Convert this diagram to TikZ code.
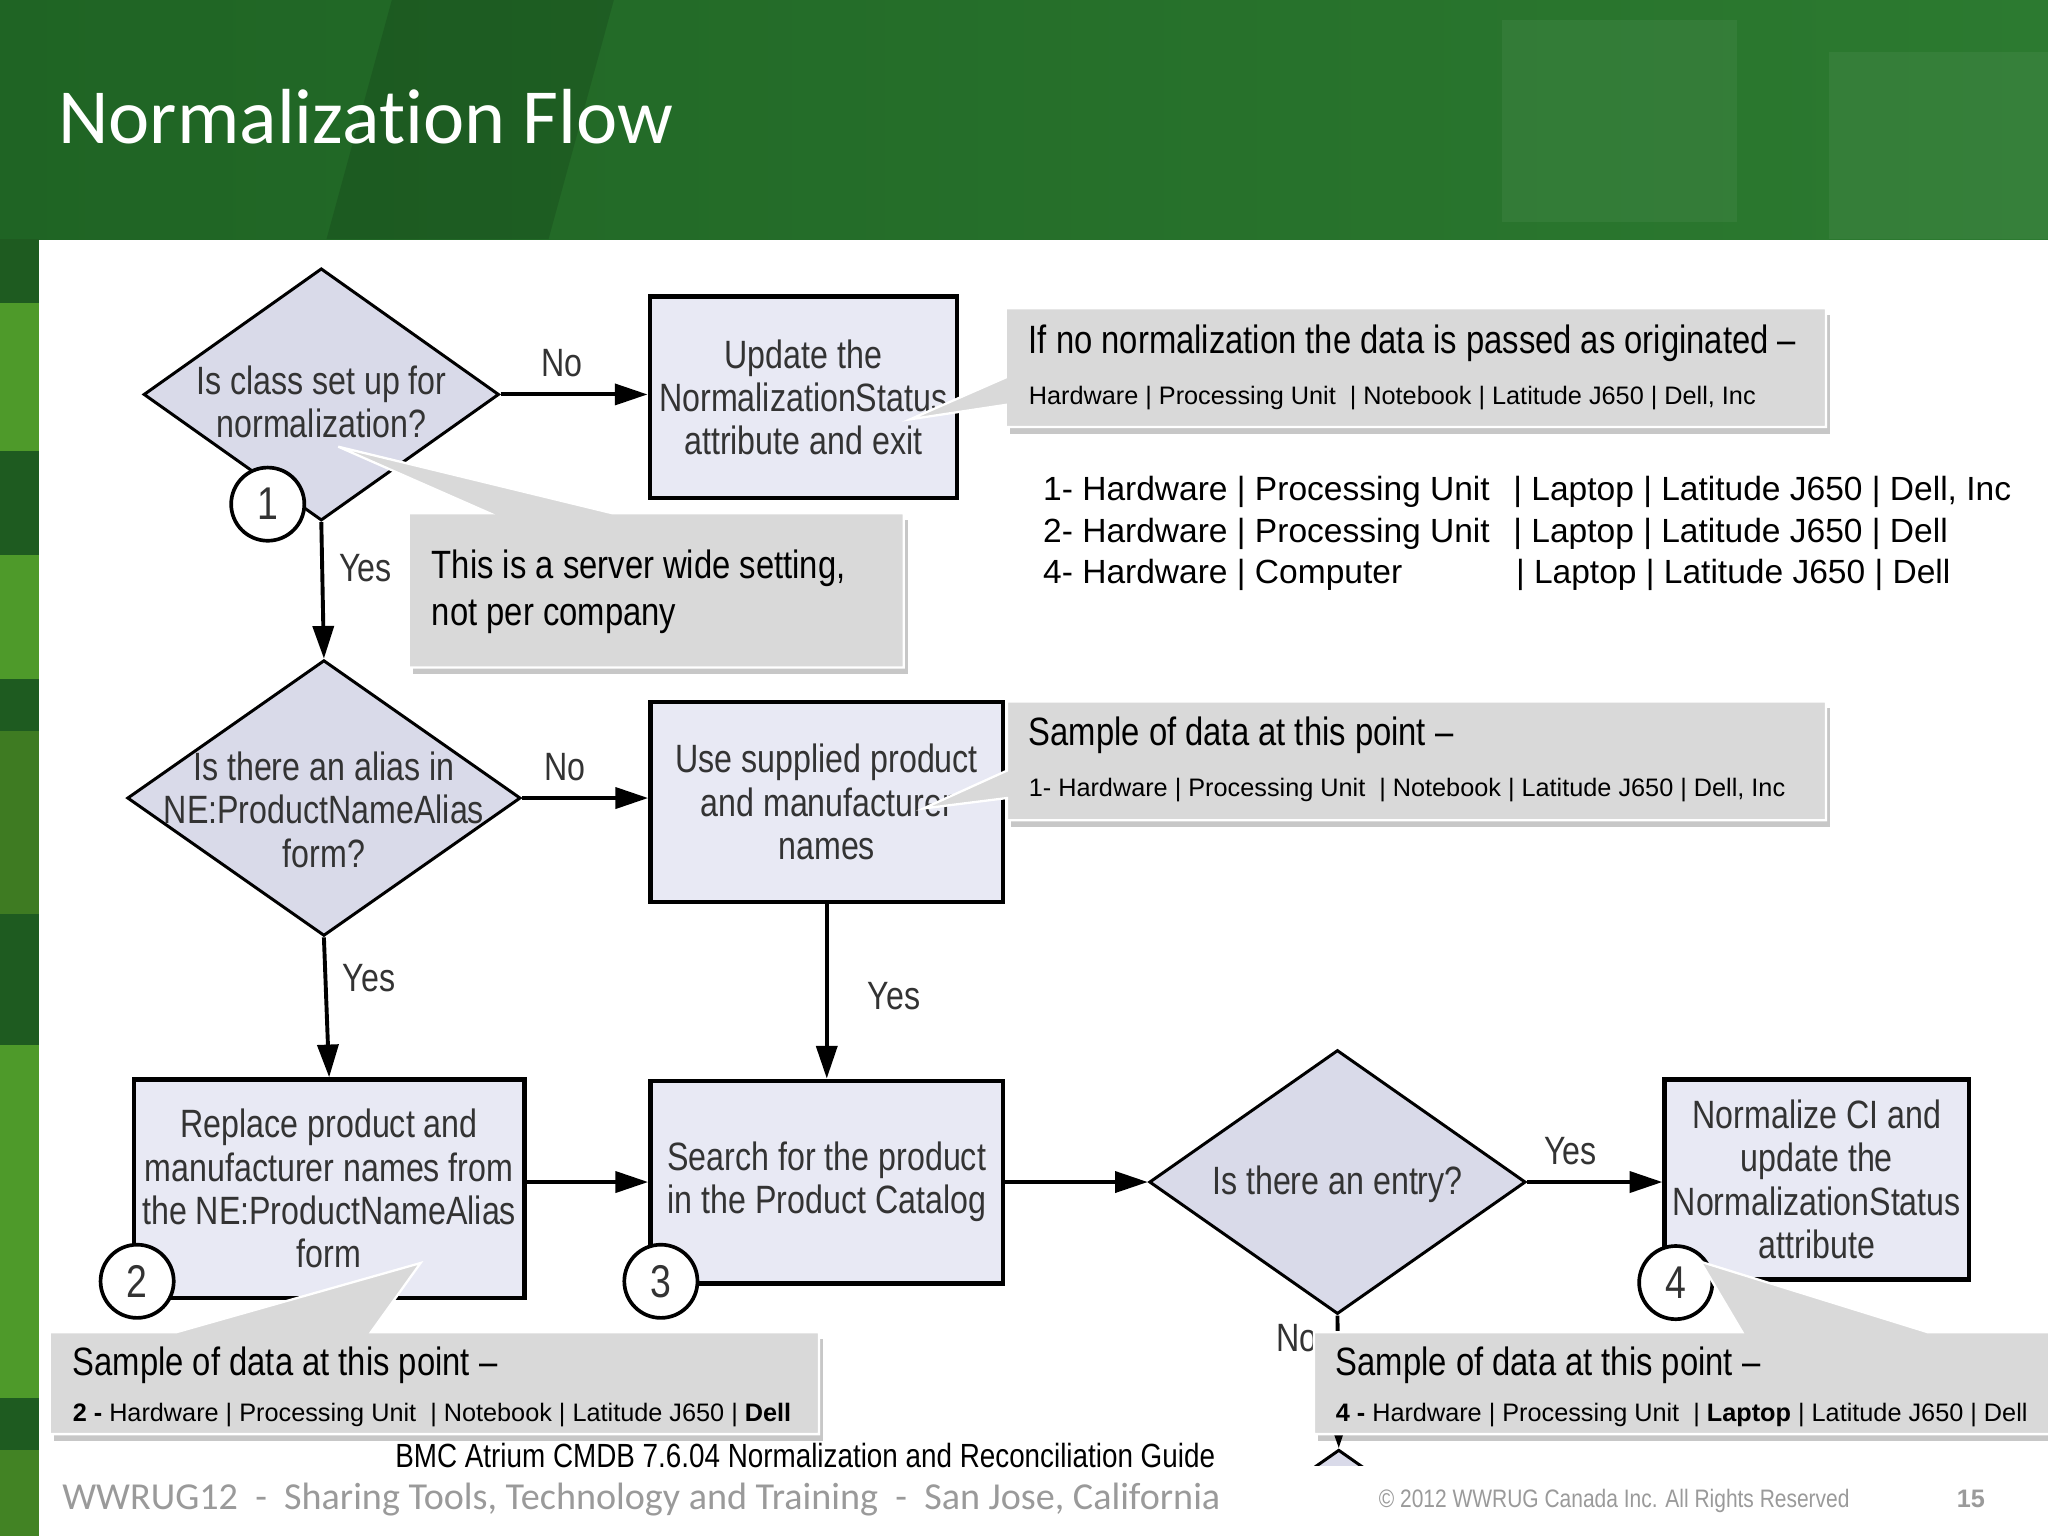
\documentclass[tikz,border=0pt]{standalone}
\usepackage{fontspec}
\setmainfont{Liberation Sans}
\newfontfamily\flowfont[FakeStretch=0.815]{Liberation Sans}
\newfontfamily\narrowfont[FakeStretch=0.83]{Liberation Sans}
\newfontfamily\slidefont[Ligatures=NoCommon]{Carlito}
\usetikzlibrary{shapes.geometric,arrows.meta}
\definecolor{boxfill}{HTML}{E8E9F4}
\definecolor{dmdfill}{HTML}{D9DAE9}
\definecolor{flowtext}{HTML}{333333}
\definecolor{callgray}{HTML}{D9D9D9}
\definecolor{footgray}{HTML}{9A9A9A}
\definecolor{hdrA}{HTML}{1F6424}
\definecolor{hdrB}{HTML}{124617}
\definecolor{hdrC}{HTML}{2C7A30}
\definecolor{stripdark}{HTML}{1E5B20}
\definecolor{stripbright}{HTML}{4E9A2A}

\begin{document}
\begin{tikzpicture}[x=0.01cm ,y=-0.01cm ,>={Triangle[length=2.5mm,width=1.6mm]},
process/.style ={rectangle ,draw=black ,line width=0.95pt ,fill=boxfill ,
text=flowtext ,align=center ,inner sep=0pt ,
font=\flowfont\fontsize{8.6}{9.4}\selectfont},
decision/.style ={diamond ,draw=black ,line width=0.65pt ,fill=dmdfill ,inner sep=0pt},
qtext/.style ={text=flowtext ,align=center ,inner sep=0pt ,
font=\flowfont\fontsize{8.6}{9.4}\selectfont},
answer/.style ={text=flowtext ,font=\flowfont\fontsize{8.6}{9.4}\selectfont},
flow/.style ={->, line width=0.85pt},
marker/.style ={circle ,draw=black ,line width=0.8pt ,fill=white ,
minimum size=0.56cm ,inner sep=0pt ,text=flowtext ,
font=\flowfont\fontsize{10}{10}\selectfont},
callout/.style ={fill=callgray ,draw=white ,line width=0.5pt},
callshadow/.style ={fill=black ,opacity=0.22},
calltitle/.style ={anchor=west ,inner sep=0pt ,
font=\narrowfont\fontsize{8.6}{10.2}\selectfont},
callline/.style ={anchor=west ,inner sep=0pt ,font=\fontsize{5.5}{6.6}\selectfont},
sample/.style ={anchor=west ,inner sep=0pt ,font=\fontsize{7.3}{8.8}\selectfont}]
\useasboundingbox (0,0) rectangle (1568,1176);

% slide background
\fill[white] (0,0) rectangle (1568,1176);
\shade[left color=hdrA ,middle color=hdrB ,right color=hdrC] (0,0) rectangle (1568,183);
\fill[black ,opacity=0.12] (300,0) -- (470,0) -- (420,183) -- (250,183) -- cycle;
\fill[white ,opacity=0.05] (1150,15) rectangle (1330,170);
\fill[white ,opacity=0.05] (1400,40) rectangle (1568,183);
\fill[stripdark] (0,183) rectangle (30,1176);
\fill[stripbright] (0,232) rectangle (30,345);
\fill[stripbright] (0,425) rectangle (30,520);
\fill[stripbright!80!black] (0,560) rectangle (30,700);
\fill[stripbright] (0,800) rectangle (30,1070);
\fill[stripbright!85!black] (0,1110) rectangle (30,1176);
\node[anchor=west ,inner sep=0pt ,text=white ,
font=\slidefont\fontsize{17}{20}\selectfont] (title) at (44,89) {Normalization Flow};

% flow chart
\node[decision ,minimum width=2.72cm ,minimum height=1.93cm] (d1) at (246,302) {};
\node[qtext] (q1) at (246,308) {Is class set up for\\normalization?};
\node[process ,minimum width=2.35cm ,minimum height=1.54cm] (upd) at (615,304)
{Update the\\NormalizationStatus\\attribute and exit};
\node[decision ,minimum width=3.01cm ,minimum height=2.11cm] (d2) at (248,611) {};
\node[qtext] (q2) at (248,620) {Is there an alias in\\NE:ProductNameAlias\\form?};
\node[process ,minimum width=2.70cm ,minimum height=1.53cm] (use) at (633,614)
{Use supplied product\\and manufacturer\\names};
\node[process ,minimum width=2.99cm ,minimum height=1.67cm] (repl) at (252,910)
{Replace product and\\manufacturer names from\\the NE:ProductNameAlias\\form};
\node[process ,minimum width=2.70cm ,minimum height=1.55cm] (srch) at (633,905)
{Search for the product\\in the Product Catalog};
\node[decision ,minimum width=2.88cm ,minimum height=2.02cm] (d3) at (1024,905) {};
\node[qtext] (q3) at (1024,907) {Is there an entry?};
\node[process ,minimum width=2.33cm ,minimum height=1.53cm] (norm) at (1391,903)
{Normalize CI and\\update the\\NormalizationStatus\\attribute};
\begin{scope}
\clip (870,1000) rectangle (1180,1122);
\node[decision ,minimum width=2.88cm ,minimum height=2.02cm] (d4) at (1025,1211) {};
\end{scope}

\draw[flow] (d1.east) -- node[answer ,above ,pos=0.42] {No} (d1.east -| upd.west);
\draw[flow] (d1.south) -- node[answer ,right ,pos=0.34] {Yes} (d2.north);
\draw[flow] (d2.east) -- node[answer ,above ,pos=0.34] {No} (d2.east -| use.west);
\draw[flow] (d2.south) -- node[answer ,right ,pos=0.29] {Yes} (repl.north);
\draw[flow] (use.south) -- node[answer ,right ,pos=0.53 ,xshift=0.18cm] {Yes} (srch.north);
\draw[flow] (repl.east |- srch.west) -- (srch.west);
\draw[flow] (srch.east) -- (d3.west);
\draw[flow] (d3.east) -- node[answer ,above ,pos=0.32] {Yes} (d3.east -| norm.west);
\draw[flow] (d3.south) -- node[answer ,left ,pos=0.17 ,xshift=-0.02cm] {No} (d4.north);

\node[marker] (m1) at (205,386) {1};
\node[marker] (m2) at (105,981) {2};
\node[marker] (m3) at (506,981) {3};
\node[marker] (m4) at (1283,982) {4};

% callouts
\fill[callshadow ,shift={(3,5)}] (770,236) -- (1398,236) -- (1398,327) -- (770,327) -- cycle;
\draw[callout] (770,236) -- (1398,236) -- (1398,327) -- (770,327) -- (770,310)
 -- (697,321) -- (770,289) -- cycle;
\fill[callshadow ,shift={(3,5)}] (313,393) -- (692,393) -- (692,511) -- (313,511) -- cycle;
\draw[callout] (313,393) -- (375,393) -- (259,342) -- (469,393) -- (692,393)
 -- (692,511) -- (313,511) -- cycle;
\fill[callshadow ,shift={(3,5)}] (771,537) -- (1398,537) -- (1398,628) -- (771,628) -- cycle;
\draw[callout] (771,537) -- (1398,537) -- (1398,628) -- (771,628) -- (771,611)
 -- (707,619) -- (771,590) -- cycle;
\fill[callshadow ,shift={(3,5)}] (38,1020) -- (627,1020) -- (627,1098) -- (38,1098) -- cycle;
\draw[callout] (38,1020) -- (135,1020) -- (322,967) -- (284,1020) -- (627,1020)
 -- (627,1098) -- (38,1098) -- cycle;
\fill[callshadow ,shift={(3,5)}] (1006,1020) -- (1570,1020) -- (1570,1098) -- (1006,1098) -- cycle;
\draw[callout] (1006,1020) -- (1334,1020) -- (1302,966) -- (1476,1020) -- (1570,1020)
 -- (1570,1098) -- (1006,1098) -- cycle;

\node[calltitle] (tTop) at (787,263) {If no normalization the data is passed as originated –};
\node[callline] (lTop) at (787,305) {Hardware | Processing Unit\ \ | Notebook | Latitude J650 | Dell, Inc};
\node[calltitle ,align=left] (tSrv) at (330,453) {This is a server wide setting,\\not per company};
\node[calltitle] (tMid) at (787,563) {Sample of data at this point –};
\node[callline] (lMid) at (787,605) {1- Hardware | Processing Unit\ \ | Notebook | Latitude J650 | Dell, Inc};
\node[calltitle] (tLeft) at (55,1045) {Sample of data at this point –};
\node[callline] (lLeft) at (55,1083) {\textbf{2 -} Hardware | Processing Unit\ \ | Notebook | Latitude J650 | \textbf{Dell}};
\node[calltitle] (tRight) at (1022,1045) {Sample of data at this point –};
\node[callline] (lRight) at (1022,1083) {\textbf{4 -} Hardware | Processing Unit\ \ | \textbf{Laptop} | Latitude J650 | Dell};

% sample rows
\node[sample] (s1a) at (798,377) {1- Hardware | Processing Unit};
\node[sample] (s1b) at (1158,377) {| Laptop | Latitude J650 | Dell, Inc};
\node[sample] (s2a) at (798,409) {2- Hardware | Processing Unit};
\node[sample] (s2b) at (1158,409) {| Laptop | Latitude J650 | Dell};
\node[sample] (s4a) at (798,440) {4- Hardware | Computer};
\node[sample] (s4b) at (1160,440) {| Laptop | Latitude J650 | Dell};

% footer
\node[anchor=west ,inner sep=0pt ,font=\narrowfont\fontsize{7.3}{8}\selectfont] (guide) at (302,1114)
{BMC Atrium CMDB 7.6.04 Normalization and Reconciliation Guide};
\node[anchor=west ,inner sep=0pt ,text=footgray ,font=\slidefont\fontsize{8.3}{10}\selectfont] (event) at (47,1148)
{WWRUG12\ \ -\ \ Sharing Tools, Technology and Training\ \ -\ \ San Jose, California};
\node[anchor=west ,inner sep=0pt ,text=footgray ,font=\narrowfont\fontsize{5.5}{6.6}\selectfont] (copy) at (1055,1149)
{\textcopyright\ 2012 WWRUG Canada Inc. All Rights Reserved};
\node[inner sep=0pt ,text=footgray ,font=\bfseries\fontsize{5.5}{6.6}\selectfont] (page) at (1509,1148) {15};
\end{tikzpicture}
\end{document}
